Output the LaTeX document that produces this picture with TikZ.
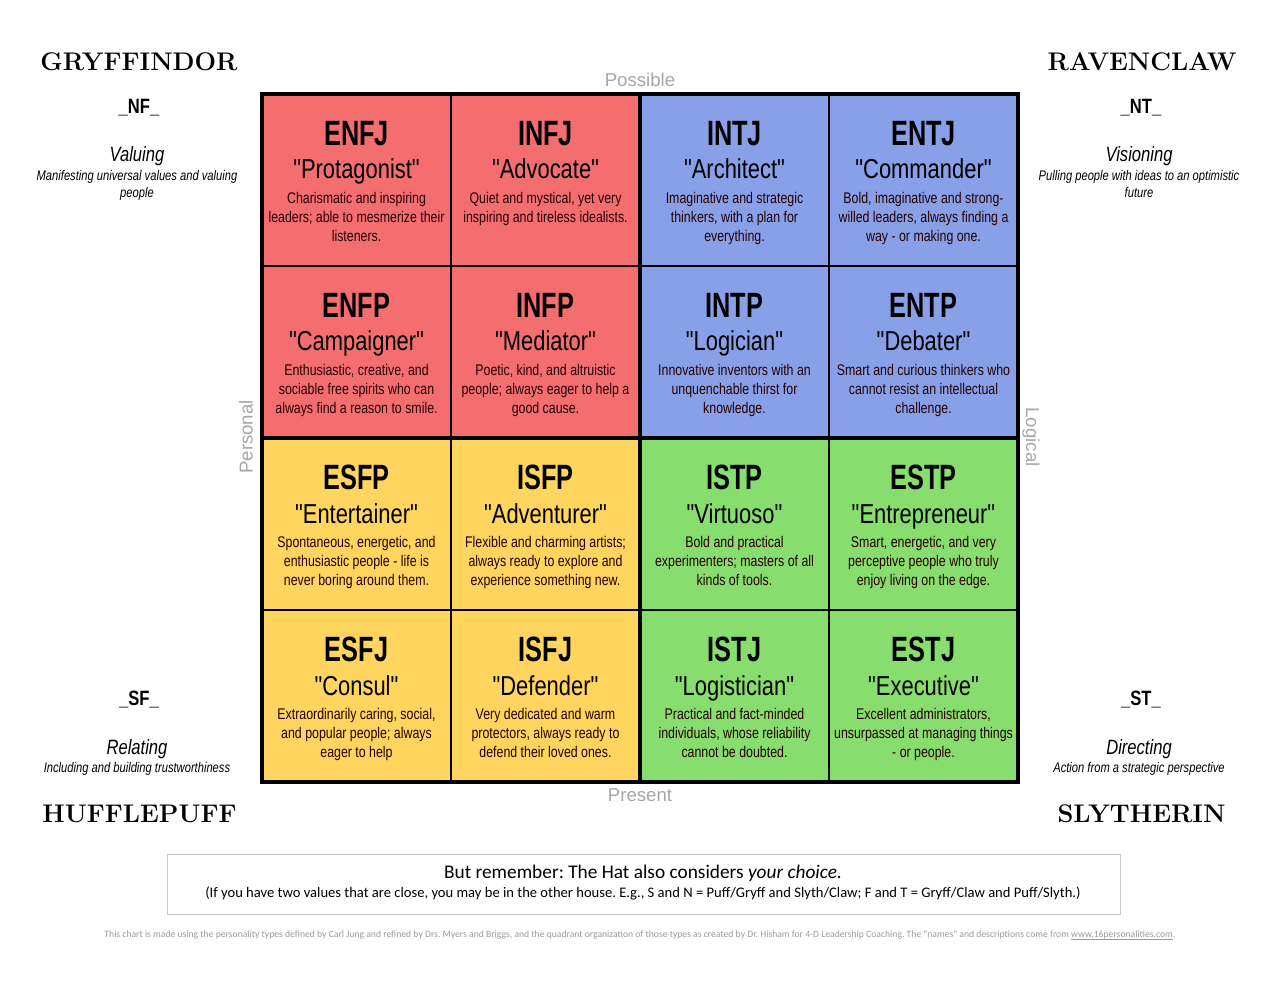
\documentclass[tikz,border=0pt]{standalone}
\usepackage{fontspec}
\usepackage{tikz}
\newfontfamily\narrowfont[FakeStretch=0.8]{Liberation Sans}
\newfontfamily\tightfont[FakeStretch=0.72]{Liberation Sans}
\newfontfamily\plainfont{Liberation Sans}
\newfontfamily\noteFont{Carlito}
\definecolor{cellred}{HTML}{F46E70}
\definecolor{cellblue}{HTML}{87A0E8}
\definecolor{cellyellow}{HTML}{FFD45F}
\definecolor{cellgreen}{HTML}{87DD6E}
\definecolor{axisgray}{HTML}{A6A6A6}
\definecolor{footgray}{HTML}{9A9A9A}
\tikzset{
    cell/.style = {draw = black, line width = 0.85pt, outer sep = 0pt, minimum width = 189*0.02cm, minimum height = 172*0.02cm, inner sep = 0pt, anchor = north west},
    typename/.style = {anchor = base, inner sep = 0pt, font = \tightfont\bfseries\fontsize{20}{22}\selectfont},
    nickname/.style = {anchor = base, inner sep = 0pt, font = \narrowfont\fontsize{15.6}{18}\selectfont},
    blurb/.style = {anchor = base, inner sep = 0pt, align = center, font = \narrowfont\fontsize{8.8}{10.8}\selectfont, text = black!85!red},
    house/.style = {anchor = base, inner sep = 0pt, font = \bfseries\fontsize{14.5}{18}\selectfont},
    pairname/.style = {anchor = base, inner sep = 0pt, font = \narrowfont\bfseries\fontsize{11.8}{13}\selectfont},
    trait/.style = {anchor = base, inner sep = 0pt, font = \narrowfont\itshape\fontsize{11.8}{13}\selectfont},
    traitnote/.style = {anchor = base, inner sep = 0pt, align = center, font = \narrowfont\itshape\fontsize{7.95}{9.7}\selectfont},
    axislabel/.style = {inner sep = 0pt, text = axisgray, font = \plainfont\fontsize{10.6}{13}\selectfont},
    frameline/.style = {line width = 1.75pt},
    divider/.style = {line width = 1.75pt},
}
\newcommand{\typecell}[6]{
    \node [cell, fill = #3] (#1) at (#4,#5) {};
    \node [typename] (#1name) at ([yshift = -51.5*0.02cm]#1.north) {#1};
    \node [nickname] (#1nick) at ([yshift = -85*0.02cm]#1.north) {"#2"};
    \node [blurb] (#1blurb) at ([yshift = -147.5*0.02cm]#1.north) {#6};
}
\begin{document}
\frenchspacing
\begin{tikzpicture}[x = 0.02cm, y = -0.02cm]
    \useasboundingbox (0,0) rectangle (1280,989);

    % the sixteen types
    \typecell{ENFJ}{Protagonist}{cellred}{262}{94}{Charismatic and inspiring\\leaders; able to mesmerize their\\listeners.}
    \typecell{INFJ}{Advocate}{cellred}{451}{94}{Quiet and mystical, yet very\\inspiring and tireless idealists.\\[0pt]\phantom{x}}
    \typecell{INTJ}{Architect}{cellblue}{640}{94}{Imaginative and strategic\\thinkers, with a plan for\\everything.}
    \typecell{ENTJ}{Commander}{cellblue}{829}{94}{Bold, imaginative and strong-\\willed leaders, always finding a\\way - or making one.}
    \typecell{ENFP}{Campaigner}{cellred}{262}{266}{Enthusiastic, creative, and\\sociable free spirits who can\\always find a reason to smile.}
    \typecell{INFP}{Mediator}{cellred}{451}{266}{Poetic, kind, and altruistic\\people; always eager to help a\\good cause.}
    \typecell{INTP}{Logician}{cellblue}{640}{266}{Innovative inventors with an\\unquenchable thirst for\\knowledge.}
    \typecell{ENTP}{Debater}{cellblue}{829}{266}{Smart and curious thinkers who\\cannot resist an intellectual\\challenge.}
    \typecell{ESFP}{Entertainer}{cellyellow}{262}{438}{Spontaneous, energetic, and\\enthusiastic people - life is\\never boring around them.}
    \typecell{ISFP}{Adventurer}{cellyellow}{451}{438}{Flexible and charming artists;\\always ready to explore and\\experience something new.}
    \typecell{ISTP}{Virtuoso}{cellgreen}{640}{438}{Bold and practical\\experimenters; masters of all\\kinds of tools.}
    \typecell{ESTP}{Entrepreneur}{cellgreen}{829}{438}{Smart, energetic, and very\\perceptive people who truly\\enjoy living on the edge.}
    \typecell{ESFJ}{Consul}{cellyellow}{262}{610}{Extraordinarily caring, social,\\and popular people; always\\eager to help}
    \typecell{ISFJ}{Defender}{cellyellow}{451}{610}{Very dedicated and warm\\protectors, always ready to\\defend their loved ones.}
    \typecell{ISTJ}{Logistician}{cellgreen}{640}{610}{Practical and fact-minded\\individuals, whose reliability\\cannot be doubted.}
    \typecell{ESTJ}{Executive}{cellgreen}{829}{610}{Excellent administrators,\\unsurpassed at managing things\\- or people.}

    % frame and quadrant lines
    \draw [divider] (INFJ.north east) -- (ISFJ.south east);
    \draw [divider] (ENFP.south west) -- (ENTP.south east);
    \draw [frameline] (ENFJ.north west) rectangle (ESTJ.south east);

    % axes
    \node [axislabel] (possible) at (640,80) {Possible};
    \node [axislabel] (present) at (640,795) {Present};
    \node [axislabel, rotate = 90] (personal) at (246,437) {Personal};
    \node [axislabel, rotate = -90] (logical) at (1031,437) {Logical};

    % houses
    \node [house] (gryffindor) at (139,71) {GRYFFINDOR};
    \node [house] (ravenclaw) at (1142,71) {RAVENCLAW};
    \node [house] (hufflepuff) at (139.5,822) {HUFFLEPUFF};
    \node [house] (slytherin) at (1141.5,822) {SLYTHERIN};

    \node [pairname] (nf) at (139,113.5) {\_NF\_};
    \node [trait] (valuing) at (137,162) {Valuing};
    \node [traitnote] (valuingnote) at (137,198) {Manifesting universal values and valuing\\people};
    \node [pairname] (nt) at (1141,113.5) {\_NT\_};
    \node [trait] (visioning) at (1139,162) {Visioning};
    \node [traitnote] (visioningnote) at (1139,198) {Pulling people with ideas to an optimistic\\future};
    \node [pairname] (sf) at (139,705) {\_SF\_};
    \node [trait] (relating) at (137,754) {Relating};
    \node [traitnote] (relatingnote) at (137,772) {Including and building trustworthiness};
    \node [pairname] (st) at (1141,705) {\_ST\_};
    \node [trait] (directing) at (1139,754) {Directing};
    \node [traitnote] (directingnote) at (1139,772) {Action from a strategic perspective};

    % reminder
    \node [draw = black!22, line width = 0.5pt, minimum width = 953*0.02cm, minimum height = 60*0.02cm, inner sep = 0pt] (hatbox) at (643.5,884) {};
    \node [inner sep = 0pt, anchor = base, font = \noteFont\fontsize{11}{12}\selectfont] (hatline) at (643,878) {But remember: The Hat also considers \textit{your choice.}};
    \node [inner sep = 0pt, anchor = base, font = \noteFont\fontsize{8.3}{10}\selectfont] (hatnote) at (643,897) {(If you have two values that are close, you may be in the other house. E.g., S and N = Puff/Gryff and Slyth/Claw; F and T = Gryff/Claw and Puff/Slyth.)};
    \node [inner sep = 0pt, anchor = base, text = footgray, font = \noteFont\fontsize{5.5}{6}\selectfont] (credit) at (640,937) {This chart is made using the personality types defined by Carl Jung and refined by Drs. Myers and Briggs, and the quadrant organization of those types as created by Dr. Hisham for 4-D Leadership Coaching. The "names" and descriptions come from \underline{\smash{www.16personalities.com}}.};
\end{tikzpicture}
\end{document}
